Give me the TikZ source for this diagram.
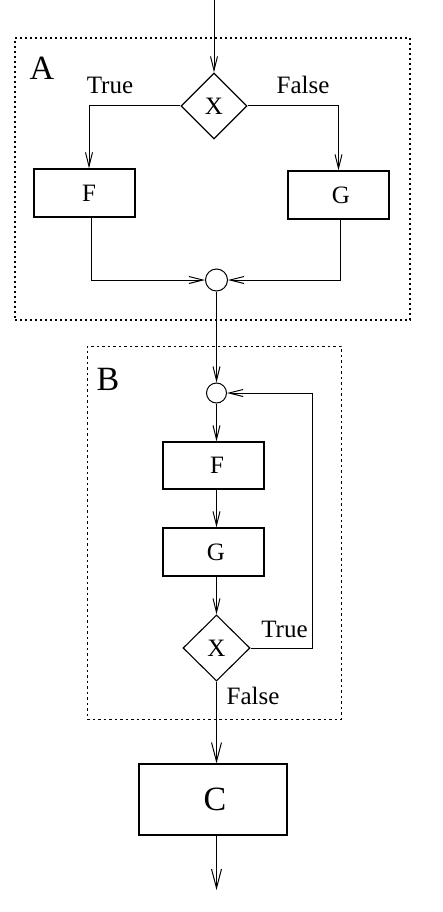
\documentclass[tikz,border=0pt]{standalone}
\usepackage{fontspec}
\setmainfont{Liberation Serif}
\usetikzlibrary{arrows.meta,shapes.geometric}
\begin{document}
\begin{tikzpicture}[x=1pt,y=-1pt,
 font=\fontsize{25pt}{30pt}\selectfont,
 line width=1pt,
 arr/.style={-{Straight Barb[length=14pt,width=7pt]}},
 bigarr/.style={-{Straight Barb[length=19pt,width=10pt]}},
 box/.style={draw,rectangle,inner sep=0pt,line width=1.2pt},
 dec/.style={draw,diamond,inner sep=0pt,minimum width=66pt,minimum height=66pt,line width=1.1pt},
 junc/.style={draw,circle,inner sep=0pt,minimum size=22pt},
 lab/.style={anchor=base,inner sep=0pt},
 big/.style={lab,font=\fontsize{34pt}{40pt}\selectfont},
 regA/.style={draw,line width=1.8pt,dash pattern=on 1.8pt off 3.2pt},
 regB/.style={draw,line width=0.9pt,dash pattern=on 2.5pt off 3pt}]
\fill[white] (0,0) rectangle (442,912);
\useasboundingbox (0,0) rectangle (442,912);

% regions
\node[regA,minimum width=395pt,minimum height=282pt,inner sep=0pt] (RA) at (212.5,179) {};
\node[regB,minimum width=254pt,minimum height=373pt,inner sep=0pt] (RB) at (214,532.5) {};

% part A
\node[big] (lA) at (42,80) {A};
\node[dec] (XA) at (214,106) {X};
\node[lab] (tA) at (110,94) {True};
\node[lab] (fA) at (303,94) {False};
\node[box,minimum width=101pt,minimum height=48pt] (FA) at (84.5,193) {\hspace*{9pt}F};
\node[box,minimum width=101pt,minimum height=48pt] (GA) at (338.5,195) {\hspace*{5pt}G};
\node[junc] (JA) at (216.5,280) {};
\coordinate (inA) at (214,0);
\draw[arr] (inA) -- (XA.north);
\draw[arr] (XA.west) -| ([xshift=4.5pt]FA.north);
\draw[arr] (XA.east) -| (GA.north);
\draw[arr] ([xshift=6.5pt]FA.south) |- (JA.west);
\draw[arr] ([xshift=1.5pt]GA.south) |- (JA.east);

% part B
\node[big] (lB) at (108,390) {B};
\node[junc,minimum size=20pt] (JB) at (216.5,393) {};
\node[box,minimum width=101pt,minimum height=47pt] (FB) at (213.5,465.5) {\hspace*{7pt}F};
\node[box,minimum width=101pt,minimum height=48pt] (GB) at (213.5,552) {\hspace*{5pt}G};
\node[dec,minimum width=67pt] (XB) at (216.5,648) {X};
\coordinate (loop) at (312,393);
\draw[arr] (JA.south) -- (JB.north);
\draw[arr] (JB.south) -- (JB.south |- FB.north);
\draw[arr] (JB.south |- FB.south) -- (JB.south |- GB.north);
\draw[arr] (JB.south |- GB.south) -- (XB.north);
\draw[arr] (XB.east) -| (loop) -- (JB.east);
\node[lab] (tB) at (284.5,637) {True};
\node[lab] (fB) at (253,704) {False};

% part C
\node[box,minimum width=148pt,minimum height=71pt,font=\fontsize{34pt}{40pt}\selectfont] (C) at (213,799.5) {\hspace*{4pt}C};
\coordinate (out) at (216.5,890);
\draw[bigarr] (XB.south) -- (XB.south |- C.north);
\draw[bigarr] (C.south -| out) -- (out);
\end{tikzpicture}
\end{document}
